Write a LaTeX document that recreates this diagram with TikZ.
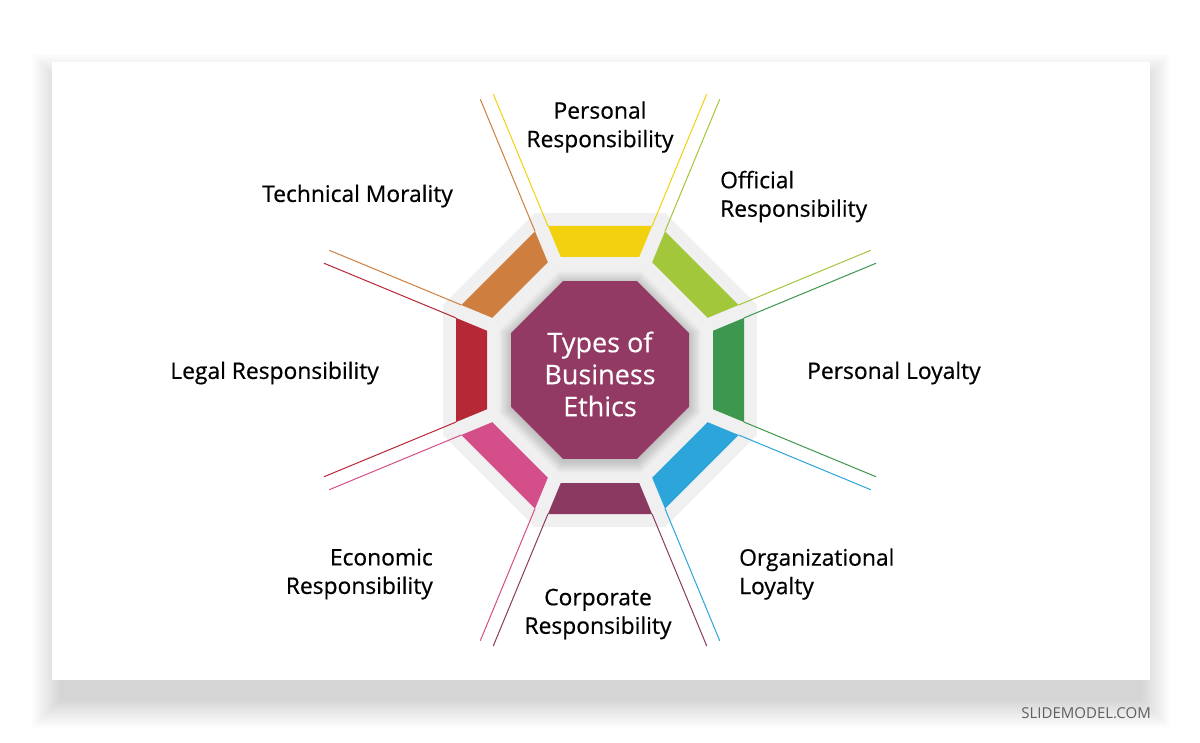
\documentclass[tikz,border=0pt]{standalone}
\usepackage{fontspec}
\setmainfont{Open Sans}
\newfontfamily\lblfont{Open Sans}[BoldFont={Open Sans}, BoldFeatures={FakeBold=0.6}]
\newfontfamily\ttlfont{Open Sans}[BoldFont={Open Sans}, BoldFeatures={FakeBold=0.4}]
\definecolor{cyel}{HTML}{F2D20F}
\definecolor{clime}{HTML}{A2C73B}
\definecolor{cgreen}{HTML}{3D974E}
\definecolor{cblue}{HTML}{2CA5DB}
\definecolor{cpurp}{HTML}{8A3A61}
\definecolor{cpink}{HTML}{D44E89}
\definecolor{cred}{HTML}{B72836}
\definecolor{corange}{HTML}{CE7F3F}
\definecolor{ccenter}{HTML}{923A64}
\definecolor{cring}{HTML}{F0F0F0}
\definecolor{ctext}{HTML}{000000}
\definecolor{cmark}{HTML}{606060}
\tikzset{
  lbl/.style={font=\lblfont\bfseries\fontsize{22.8}{28.5}\selectfont, text=ctext, inner sep=0pt},
  ray/.style={line width=1pt},
}
\begin{document}
\begin{tikzpicture}[x=1pt,y=1pt]
\useasboundingbox (0,0) rectangle (1200,-743);
\fill[white] (0,0) rectangle (1200,-743);
% card shadow
\foreach \i in {0,...,20} {
  \fill[black,opacity=0.008] ({52+8-1.4*\i},{-82+1.4*\i}) rectangle ({1150-8+1.4*\i},{-700-1.4*\i});
}
\fill[white] (52,-62) rectangle (1150,-680);
\coordinate (c) at (600,-370);
% outer ring octagon
\fill[cring, shift={(c)}] (22.5:169.93) \foreach \a in {67.5,112.5,...,337.5} { -- (\a:169.93) } -- cycle;
% segments
\foreach \k/\col in {0/cyel,1/clime,2/cgreen,3/cblue,4/cpurp,5/cpink,6/cred,7/corange} {
  \begin{scope}[shift={(c)},rotate={90-45*\k}]
    \fill[\col] (113,-39.23) -- (144,-52.07) -- (144,52.07) -- (113,39.23) -- cycle;
  \end{scope}
}
% rays
\foreach \k/\ca/\cb in {0/cyel/clime,1/clime/cgreen,2/cgreen/cblue,3/cblue/cpurp,4/cpurp/cpink,5/cpink/cred,6/cred/corange,7/corange/cyel} {
  \begin{scope}[shift={(c)},rotate={67.5-45*\k}]
    \coordinate (a1) at (152.96,7);
    \coordinate (a2) at (296,7);
    \coordinate (b1) at (152.96,-7);
    \coordinate (b2) at (296,-7);
    \draw[ray,\ca] (a1) -- (a2);
    \draw[ray,\cb] (b1) -- (b2);
  \end{scope}
}
% center shadow
\foreach \i in {1,...,9} {
  \fill[black,opacity=0.018, shift={(600,-372)}] (22.5:{(89+1.3*\i)/0.92388}) \foreach \a in {67.5,112.5,...,337.5} { -- (\a:{(89+1.3*\i)/0.92388}) } -- cycle;
}
\fill[ccenter, shift={(c)}] (22.5:96.33) \foreach \a in {67.5,112.5,...,337.5} { -- (\a:96.33) } -- cycle;
\node[font=\ttlfont\bfseries\fontsize{27}{32}\selectfont, text=white, align=center, inner sep=0pt] (title) at (600,-374) {Types of\\Business\\Ethics};
% labels
\node[lbl, align=center] (l1) at (600,-127) {Personal\\Responsibility};
\node[lbl, align=left, anchor=west] (l2) at (720,-196.5) {Official\\Responsibility};
\node[lbl, anchor=west] (l3) at (807,-373) {Personal Loyalty};
\node[lbl, align=left, anchor=west] (l4) at (739,-574) {Organizational\\Loyalty};
\node[lbl, align=center] (l5) at (598,-614) {Corporate\\Responsibility};
\node[lbl, align=right, anchor=east] (l6) at (433,-574) {Economic\\Responsibility};
\node[lbl, anchor=east] (l7) at (379,-373) {Legal Responsibility};
\node[lbl, anchor=east] (l8) at (453,-196) {Technical Morality};
\node[font=\fontsize{15}{17}\selectfont, text=cmark, anchor=east, inner sep=0pt] (mark) at (1151,-713) {SLIDEMODEL.COM};
\end{tikzpicture}
\end{document}
